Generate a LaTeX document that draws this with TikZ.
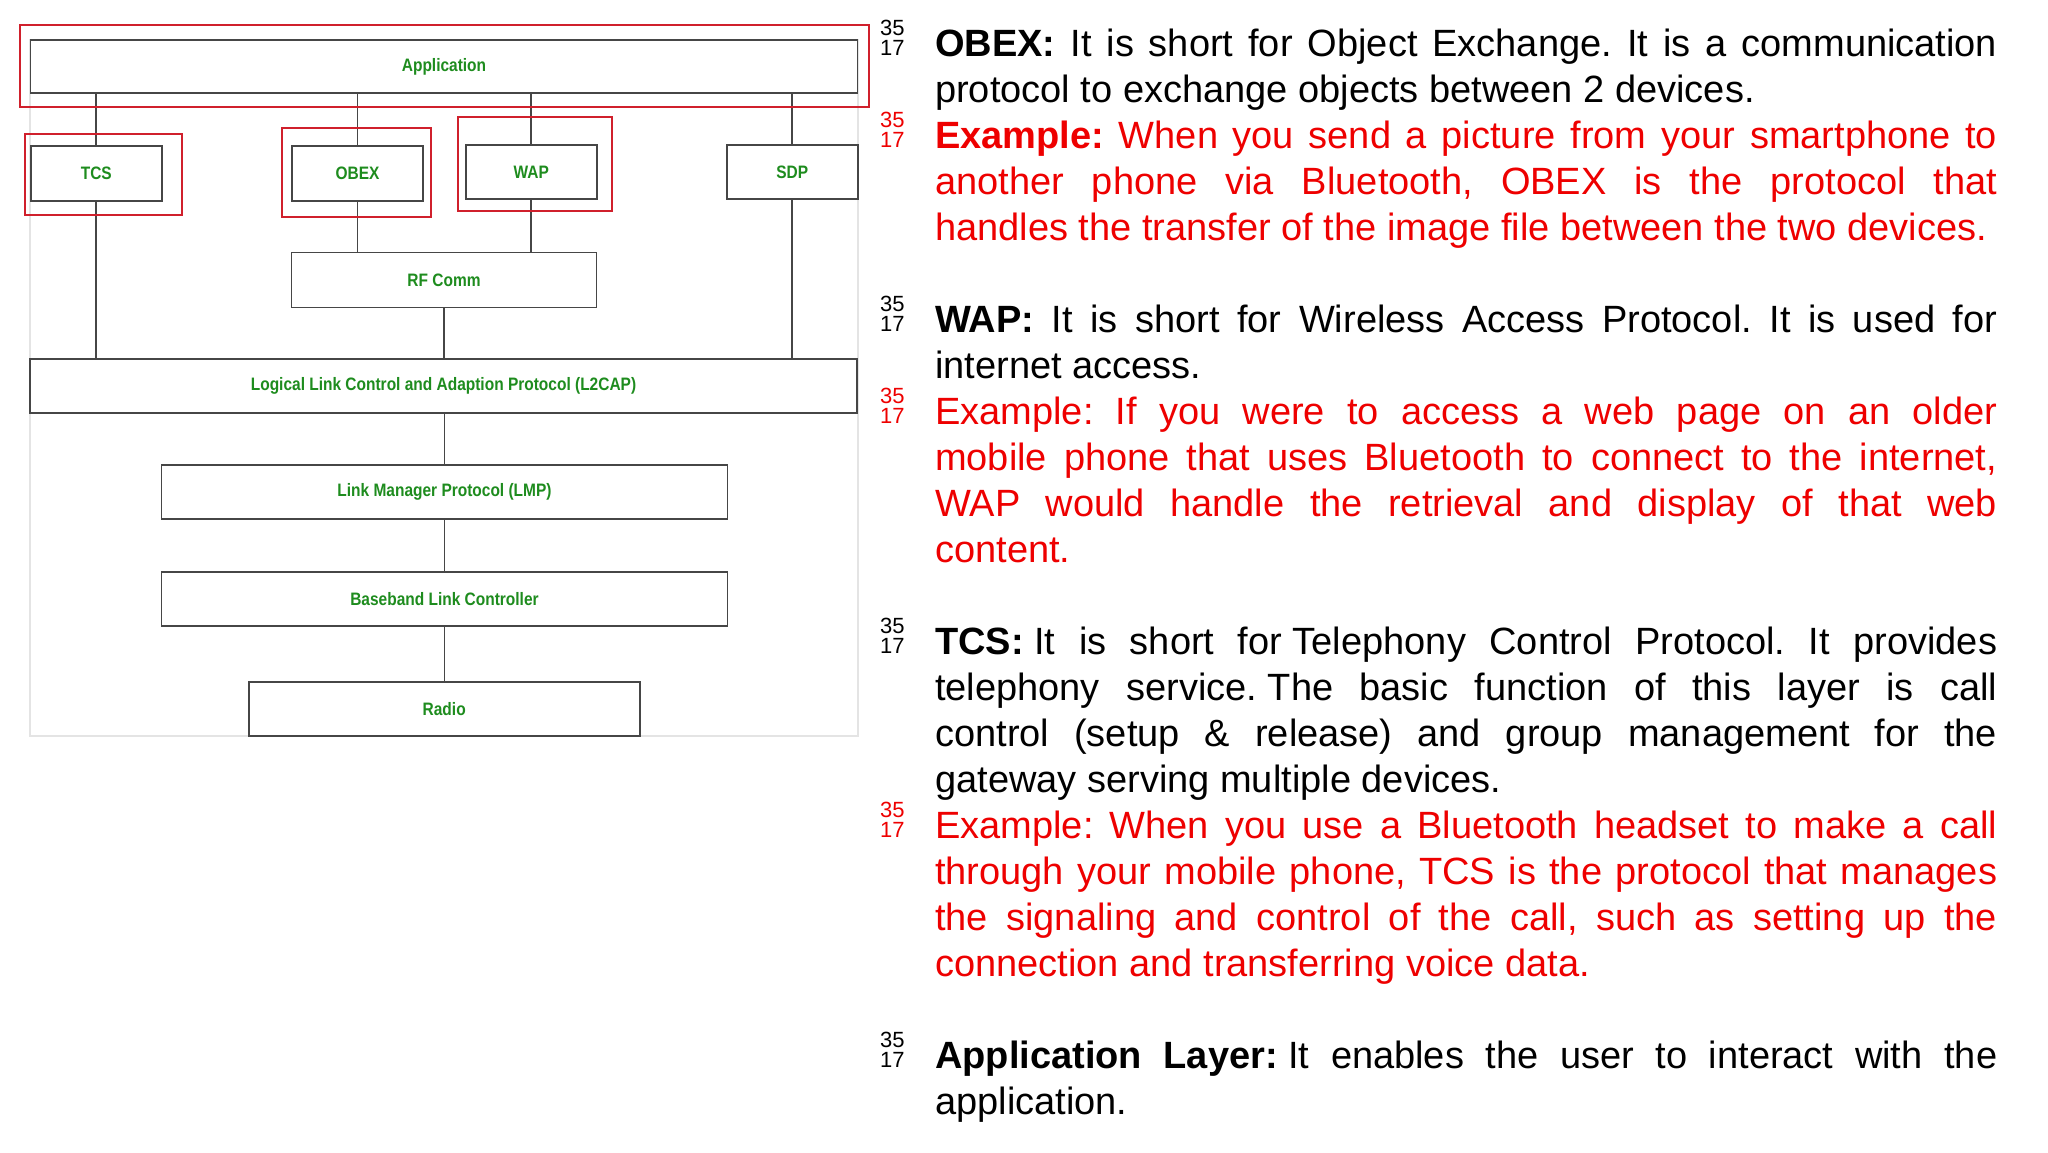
\documentclass[tikz,border=0pt]{standalone}
\usepackage{fontspec}
\setmainfont{Liberation Sans}
\newfontfamily\diafont[FakeStretch=0.86]{Liberation Sans}
\definecolor{exred}{RGB}{238,0,0}
\definecolor{boxred}{RGB}{208,32,44}
\definecolor{lblgreen}{RGB}{30,140,30}
\definecolor{boxgray}{RGB}{70,70,70}
\definecolor{framegray}{RGB}{228,228,228}
\newlength\txtw \setlength\txtw{1062pt}
\newcommand\jl[1]{\hbox to \txtw{#1}}
\newcommand\lastln[1]{\hbox{#1}}
\newcommand\mksym{\vbox{\hbox{35}\hbox{17}}}
\frenchspacing
\begin{document}
\begin{tikzpicture}[x=1pt,y=-1pt,
  layer/.style={draw=boxgray, line width=1.9pt, fill=white, inner sep=0pt,
    font=\diafont\bfseries\fontsize{18}{20}\selectfont, text=lblgreen},
  hl/.style={draw=boxred, line width=2.4pt},
  link/.style={draw=boxgray, line width=1.8pt},
  para/.style={anchor=base west, inner sep=0pt, font=\fontsize{38}{46}\selectfont},
  bulletmk/.style={anchor=base west, inner sep=0pt, font=\fontsize{22}{19.5}\selectfont}]
\useasboundingbox (0,0) rectangle (2048,1152);
\fill[white] (0,0) rectangle (2048,1152);
% faint frame of the figure
\draw[framegray, line width=1.2pt] (30,40) rectangle (858,736);

% layers
\node[layer, minimum width=827pt, minimum height=53pt] (app) at (444,66.7) {Application};
\node[layer, minimum width=131pt, minimum height=55pt] (tcs) at (96.3,173.5) {TCS};
\node[layer, minimum width=131pt, minimum height=55pt] (obex) at (357.5,173.5) {OBEX};
\node[layer, minimum width=131pt, minimum height=54pt] (wap) at (531.2,172.2) {WAP};
\node[layer, minimum width=131pt, minimum height=54pt] (sdp) at (792.2,172.2) {SDP};
\node[layer, minimum width=305pt, minimum height=55pt] (rfcomm) at (444,280) {RF Comm};
\node[layer, minimum width=827pt, minimum height=54pt] (l2cap) at (443.5,386.3) {Logical Link Control and Adaption Protocol (L2CAP)};
\node[layer, minimum width=566pt, minimum height=54pt] (lmp) at (444.5,492) {Link Manager Protocol (LMP)};
\node[layer, minimum width=566pt, minimum height=54pt] (bb) at (444.5,598.8) {Baseband Link Controller};
\node[layer, minimum width=391pt, minimum height=54pt] (radio) at (444.2,708.8) {Radio};

% connectors
\draw[link] (app.south -| tcs.north) -- (tcs.north);
\draw[link] (app.south -| obex.north) -- (obex.north);
\draw[link] (app.south -| wap.north) -- (wap.north);
\draw[link] (app.south -| sdp.north) -- (sdp.north);
\draw[link] (tcs.south) -- (tcs.south |- l2cap.north);
\draw[link] (sdp.south) -- (sdp.south |- l2cap.north);
\draw[link] (obex.south) -- (obex.south |- rfcomm.north);
\draw[link] (wap.south) -- (wap.south |- rfcomm.north);
\draw[link] (rfcomm.south) -- (rfcomm.south |- l2cap.north);
\draw[link] (l2cap.south -| lmp.north) -- (lmp.north);
\draw[link] (lmp.south) -- (lmp.south |- bb.north);
\draw[link] (bb.south) -- (bb.south |- radio.north);

% red highlight frames
\draw[hl] (20,25) rectangle (869,107);
\draw[hl] (24.7,134) rectangle (181.7,215);
\draw[hl] (282,128) rectangle (431,216.7);
\draw[hl] (458,116.7) rectangle (612,210.7);

% bullets
\node[bulletmk] (b1) at (880,55) {\mksym};
\node[bulletmk, text=exred] (b2) at (880,147) {\mksym};
\node[bulletmk] (b3) at (880,331) {\mksym};
\node[bulletmk, text=exred] (b4) at (880,423) {\mksym};
\node[bulletmk] (b5) at (880,653) {\mksym};
\node[bulletmk, text=exred] (b6) at (880,837) {\mksym};
\node[bulletmk] (b7) at (880,1067) {\mksym};

% paragraphs
\node[para] (obexdef) at (935,56) {\vtop{%
\jl{\textbf{OBEX:} It is short for Object Exchange. It is a communication}
\lastln{protocol to exchange objects between 2 devices.}}};
\node[para, text=exred] (obexex) at (935,148) {\vtop{%
\jl{\textbf{Example:} When you send a picture from your smartphone to}
\jl{another phone via Bluetooth, OBEX is the protocol that}
\lastln{handles the transfer of the image file between the two devices.}}};
\node[para] (wapdef) at (935,332) {\vtop{%
\jl{\textbf{WAP:} It is short for Wireless Access Protocol. It is used for}
\lastln{internet access.}}};
\node[para, text=exred] (wapex) at (935,424) {\vtop{%
\jl{Example: If you were to access a web page on an older}
\jl{mobile phone that uses Bluetooth to connect to the internet,}
\jl{WAP would handle the retrieval and display of that web}
\lastln{content.}}};
\node[para] (tcsdef) at (935,654) {\vtop{%
\jl{\textbf{TCS:}\kern0.278em It is short for\kern0.278em Telephony Control Protocol. It provides}
\jl{telephony service.\kern0.278em The basic function of this layer is call}
\jl{control (setup \& release) and group management for the}
\lastln{gateway serving multiple devices.}}};
\node[para, text=exred] (tcsex) at (935,838) {\vtop{%
\jl{Example: When you use a Bluetooth headset to make a call}
\jl{through your mobile phone, TCS is the protocol that manages}
\jl{the signaling and control of the call, such as setting up the}
\lastln{connection and transferring voice data.}}};
\node[para] (appdef) at (935,1068) {\vtop{%
\jl{\textbf{Application Layer:}\kern0.278em It enables the user to interact with the}
\lastln{application.}}};
\end{tikzpicture}
\end{document}
